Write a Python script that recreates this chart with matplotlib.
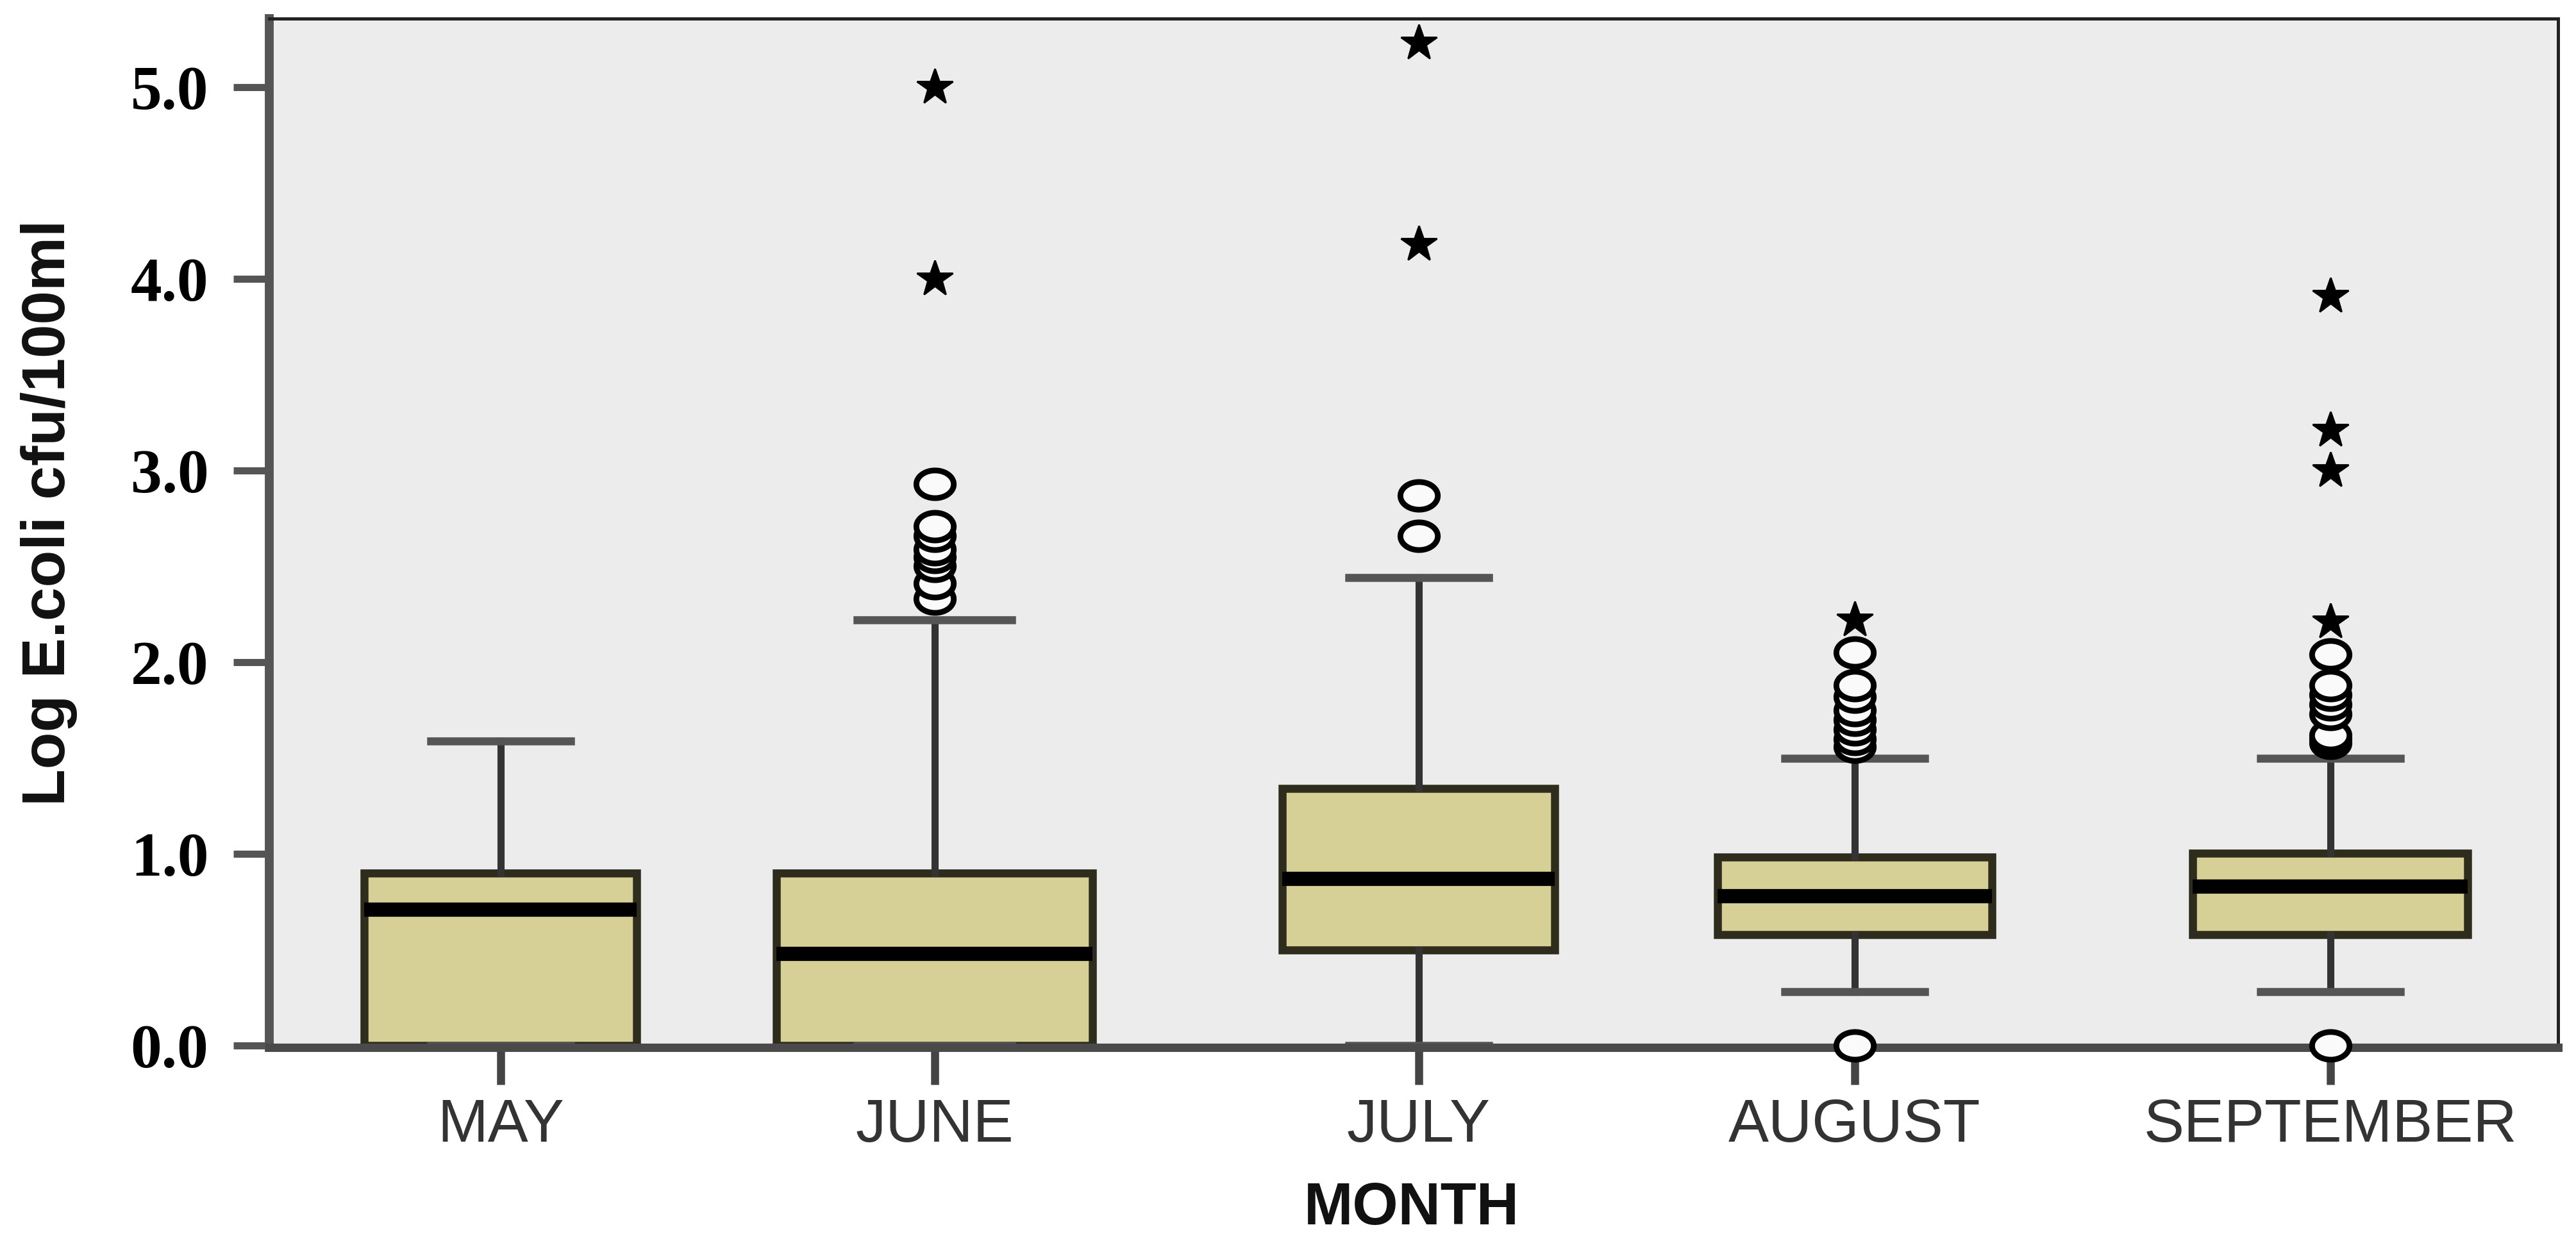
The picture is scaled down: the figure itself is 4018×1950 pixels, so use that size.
import numpy as np
import matplotlib.pyplot as plt
from matplotlib.path import Path

# --- data ---
months = ["MAY", "JUNE", "JULY", "AUGUST", "SEPTEMBER"]
q1 = [0.0, 0.0, 0.50, 0.58, 0.58]
median = [0.71, 0.48, 0.87, 0.78, 0.83]
q3 = [0.90, 0.90, 1.34, 0.985, 1.005]
whisker_lo = [0.0, 0.0, 0.0, 0.28, 0.28]
whisker_hi = [1.59, 2.22, 2.44, 1.50, 1.50]

# outliers (circles) and extreme values (stars)
circle_out = [
    [],
    [2.33, 2.41, 2.50, 2.55, 2.59, 2.66, 2.71, 2.93],
    [2.66, 2.87],
    [0.0, 1.56, 1.60, 1.65, 1.70, 1.75, 1.82, 1.88, 2.05],
    [0.0, 1.58, 1.60, 1.62, 1.73, 1.78, 1.83, 1.88, 2.04],
]
star_out = [
    [],
    [4.0, 5.0],
    [4.18, 5.23],
    [2.22],
    [2.21, 3.0, 3.21, 3.91],
]

yticks = [0, 1, 2, 3, 4, 5]
ytick_labels = ["0.0", "1.0", "2.0", "3.0", "4.0", "5.0"]

# layout of the boxes (axis fraction units)
box_pos = [0.1011, 0.2907, 0.5022, 0.6926, 0.9004]
box_w = [0.119, 0.138, 0.119, 0.120, 0.120]
cap_w = [0.061, 0.0675, 0.061, 0.061, 0.061]

BOX_FACE = "#d6cf96"
BOX_EDGE = "#2e2c1c"
BG = "#ececec"

stats = []
for i, m in enumerate(months):
    stats.append(dict(label=m, q1=q1[i], med=median[i], q3=q3[i],
                      whislo=whisker_lo[i], whishi=whisker_hi[i], fliers=[]))

fig = plt.figure(figsize=(20.09, 9.75), dpi=200)
ax = fig.add_axes([0.1045, 0.162, 0.8886, 0.8231])
ax.set_facecolor(BG)

ax.bxp(stats, positions=box_pos, widths=box_w, capwidths=cap_w,
       patch_artist=True, showfliers=False,
       boxprops=dict(facecolor=BOX_FACE, edgecolor=BOX_EDGE, linewidth=4.5),
       medianprops=dict(color="black", linewidth=8, solid_capstyle="butt"),
       whiskerprops=dict(color="#333333", linewidth=4),
       capprops=dict(color="#555555", linewidth=4.5))

# slightly wide ellipse, like the stretched SPSS circles
t = np.linspace(0, 2 * np.pi, 64)
ellipse = Path(np.column_stack([1.35 * np.cos(t), np.sin(t)]), closed=True)

for i in range(len(months)):
    vals = circle_out[i]
    if vals:
        ax.plot([box_pos[i]] * len(vals), vals, linestyle="none",
                marker=ellipse, markersize=21, markerfacecolor="#fafafa",
                markeredgecolor="black", markeredgewidth=3.2,
                clip_on=False, zorder=5)
    vals = star_out[i]
    if vals:
        ax.plot([box_pos[i]] * len(vals), vals, linestyle="none",
                marker="*", markersize=21, color="black",
                clip_on=False, zorder=5)

ax.set_xlim(0, 1)
ax.set_ylim(-0.01, 5.357)

ax.set_yticks(yticks)
ax.set_yticklabels(ytick_labels, fontfamily="Liberation Serif",
                   fontweight="bold", fontsize=35)
ax.set_xticks(box_pos)
ax.set_xticklabels(months, fontfamily="Liberation Sans", fontsize=34,
                   color="#333333")

ax.tick_params(axis="y", length=20, width=4, color="#555555", pad=14)
ax.tick_params(axis="x", length=21, width=4.5, color="#444444", pad=7)

ax.spines["left"].set_color("#555555")
ax.spines["left"].set_linewidth(5)
ax.spines["bottom"].set_color("#4a4a4a")
ax.spines["bottom"].set_linewidth(4.7)
for side in ["top", "right"]:
    ax.spines[side].set_color("#222222")
    ax.spines[side].set_linewidth(1.8)

fig.text(0.019, 0.59, "Log E.coli cfu/100ml", rotation=90,
         ha="center", va="center", fontfamily="Liberation Sans",
         fontweight="bold", fontsize=34, color="#111111")
fig.text(0.548, 0.033, "MONTH", ha="center", va="center",
         fontfamily="Liberation Sans", fontweight="bold", fontsize=33,
         color="#111111")

fig.savefig("out.png", dpi=200, facecolor="white")
